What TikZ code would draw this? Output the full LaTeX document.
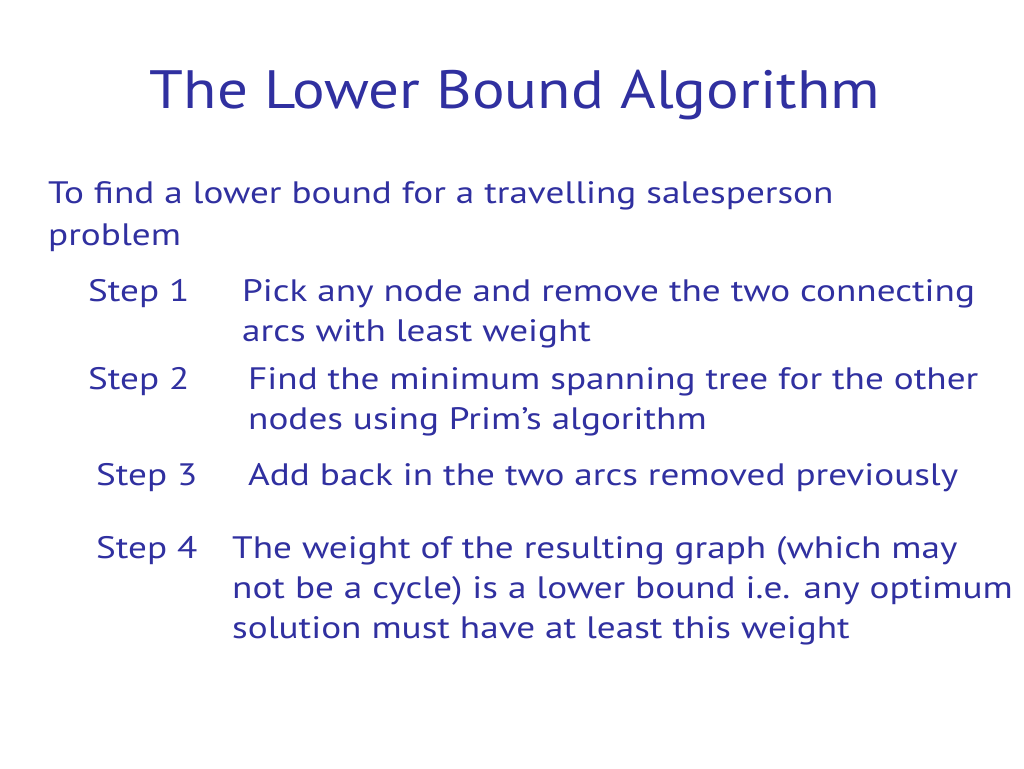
\documentclass[tikz,border=0pt]{standalone}
\usepackage{fontspec}
\setmainfont{PT Sans}
\newfontfamily\bodyf[FakeStretch=1.2]{PT Sans}
\newfontfamily\titlef[FakeStretch=1.13]{PT Sans}
\definecolor{tblue}{RGB}{48,48,160}
\begin{document}
\begin{tikzpicture}[x=1pt,y=-1pt,
  txt/.style={anchor=base west,inner sep=0pt,text=tblue,font=\bodyf\fontsize{31}{36}\selectfont},
  ttl/.style={anchor=base,inner sep=0pt,text=tblue,font=\titlef\fontsize{54}{60}\selectfont}]
\fill[white] (0,0) rectangle (1024,768);
\useasboundingbox (0,0) rectangle (1024,768);
\node[ttl] (title) at (515,108) {The Lower Bound Algorithm};
\node[txt] (l1) at (48,203) {To find a lower bound for a travelling salesperson};
\node[txt] (l2) at (48,245) {problem};
\node[txt] (s1) at (88,301) {Step 1};
\node[txt] (s1a) at (242,301) {Pick any node and remove the two connecting};
\node[txt] (s1b) at (242,341) {arcs with least weight};
\node[txt] (s2) at (88,389) {Step 2};
\node[txt] (s2a) at (248,389) {Find the minimum spanning tree for the other};
\node[txt] (s2b) at (248,429) {nodes using Prim’s algorithm};
\node[txt] (s3) at (96,485) {Step 3};
\node[txt] (s3a) at (248,485) {Add back in the two arcs removed previously};
\node[txt] (s4) at (96,558) {Step 4};
\node[txt] (s4a) at (232,558) {The weight of the resulting graph (which may};
\node[txt] (s4b) at (232,598) {not be a cycle) is a lower bound i.e. any optimum};
\node[txt] (s4c) at (232,638) {solution must have at least this weight};
\end{tikzpicture}
\end{document}
